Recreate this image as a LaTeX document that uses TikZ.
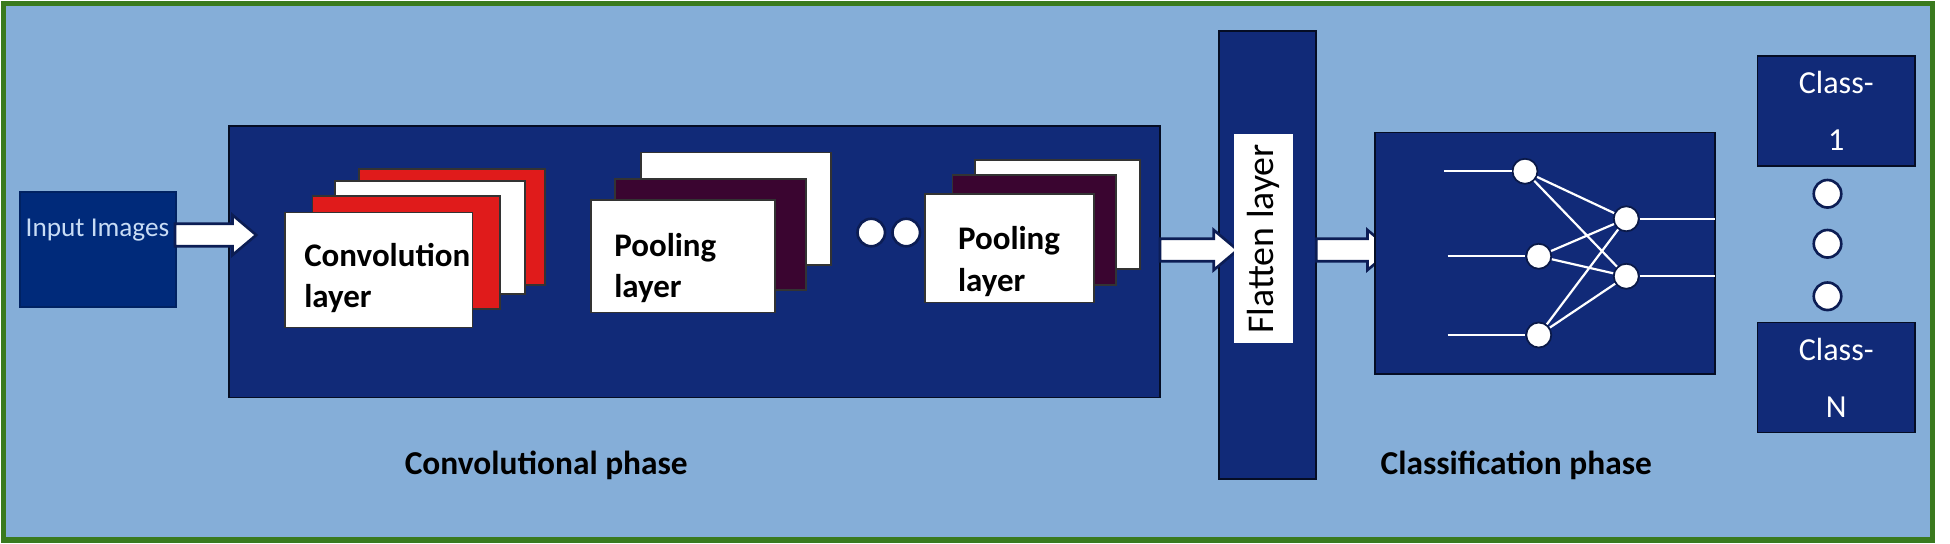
\documentclass[tikz,border=0pt]{standalone}
\usepackage{fontspec}
\setmainfont{Carlito}
\definecolor{bgblue}{RGB}{133,174,216}
\definecolor{navy}{RGB}{17,42,120}
\definecolor{inbox}{RGB}{0,42,122}
\definecolor{lred}{RGB}{224,27,27}
\definecolor{lpurple}{RGB}{58,5,48}
\definecolor{frame}{RGB}{58,122,30}
\definecolor{txtblue}{RGB}{200,220,245}
\tikzset{
  x=0.01cm,y=-0.01cm,
  panel/.style={fill=navy,draw=black!70!navy,line width=0.4pt},
  sheet/.style={draw=black!80,line width=0.4pt},
  barrow/.style={draw=navy!70!black,fill=white,line width=0.6pt,line join=miter},
  neuron/.style={circle,fill=white,draw=navy!60!black,minimum size=0.20cm,inner sep=0pt},
  wire/.style={white,line width=0.5pt},
  lbl/.style={font=\bfseries\fontsize{7.5}{9.5}\selectfont,align=left,anchor=north west},
  phase/.style={font=\bfseries\fontsize{7.6}{9}\selectfont},
  cls/.style={panel,minimum width=1.26cm,minimum height=0.88cm,font=\fontsize{7.3}{10}\selectfont,text=white,align=center,inner sep=0pt},
  dot/.style={circle,fill=white,draw=navy!70!black,line width=0.6pt,minimum size=0.22cm,inner sep=0pt}
}
% block arrow: start x, end x, centre y
\newcommand{\blockarrow}[3]{%
  \draw[barrow] (#1,#3-9) -- (#2-19,#3-9) -- (#2-19,#3-16) -- (#2,#3) -- (#2-19,#3+16) -- (#2-19,#3+9) -- (#1,#3+9) -- cycle;}
\begin{document}
\begin{tikzpicture}
\useasboundingbox (0,0) rectangle (1560,435);
\fill[white] (0,0) rectangle (1560,435);
\draw[fill=bgblue,draw=frame,line width=1.2pt] (3,3) rectangle (1546,432);
% input
\node[fill=inbox,draw=inbox!80!black,minimum width=1.25cm,minimum height=0.92cm,inner sep=0pt,anchor=north west] (in) at (15,153) {};
\node[text=txtblue,font=\fontsize{6.2}{7}\selectfont] (intxt) at (78,184) {Input Images};
% conv phase
\draw[panel] (183,101) rectangle (928,318);
\blockarrow{140}{205}{188}
% conv stack
\draw[sheet,fill=lred] (287,135) rectangle (436,228);
\draw[sheet,fill=white] (268,145) rectangle (420,235);
\draw[sheet,fill=lred] (250,157) rectangle (400,247);
\draw[sheet,fill=white] (228,170) rectangle (378,262);
\node[lbl] (conv) at (231,182) {Convolution\\layer};
% pool 1
\draw[sheet,fill=white] (513,122) rectangle (665,212);
\draw[sheet,fill=lpurple] (492,143) rectangle (645,232);
\draw[sheet,fill=white] (473,160) rectangle (620,250);
\node[lbl] (pool1) at (479,174) {Pooling\\layer};
\node[dot] (d1) at (697,186) {};
\node[dot] (d2) at (725,186) {};
% pool 2
\draw[sheet,fill=white] (780,128) rectangle (912,215);
\draw[sheet,fill=lpurple] (762,140) rectangle (893,228);
\draw[sheet,fill=white] (740,155) rectangle (875,242);
\node[lbl] (pool2) at (754,169) {Pooling\\layer};
\node[phase] (p1) at (437,372) {Convolutional phase};
% flatten
\draw[panel] (975,25) rectangle (1053,383);
\blockarrow{928}{990}{200}
\node[fill=white,minimum width=0.47cm,minimum height=1.67cm,inner sep=0pt] (flat) at (1011,191) {};
\node[rotate=90,font=\fontsize{8.6}{9}\selectfont] (ftxt) at (1011,191) {Flatten layer};
\blockarrow{1053}{1113}{200}
% classification
\draw[panel] (1100,106) rectangle (1372,299);
\node[neuron] (n1) at (1220,137) {};
\node[neuron] (n2) at (1231,205) {};
\node[neuron] (n3) at (1231,268) {};
\node[neuron] (o1) at (1301,175) {};
\node[neuron] (o2) at (1301,221) {};
\coordinate (i1) at (1155,137);
\coordinate (i2) at (1158,205);
\coordinate (i3) at (1158,268);
\coordinate (e1) at (1372,175);
\coordinate (e2) at (1372,221);
\draw[wire] (i1) -- (n1) (i2) -- (n2) (i3) -- (n3) (o1) -- (e1) (o2) -- (e2);
\draw[wire] (n1) -- (o1) (n1) -- (o2) (n2) -- (o1) (n2) -- (o2) (n3) -- (o1) (n3) -- (o2);
\node[phase] (p2) at (1213,372) {Classification phase};
% classes
\node[cls] (c1) at (1469,89) {Class-\\[3pt]1};
\node[dot] (k1) at (1462,155) {};
\node[dot] (k2) at (1462,195) {};
\node[dot] (k3) at (1462,237) {};
\node[cls] (cN) at (1469,302) {Class-\\[3pt]N};
\end{tikzpicture}
\end{document}
